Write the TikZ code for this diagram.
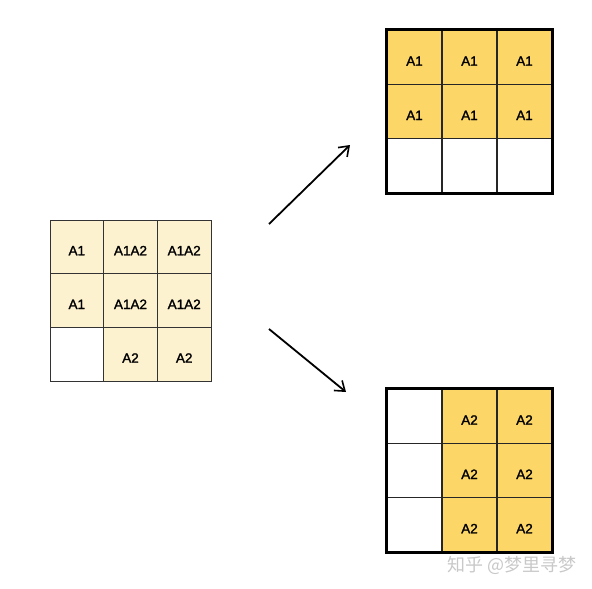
\documentclass[tikz,border=0pt]{standalone}
\usepackage{fontspec}
\setmainfont{Liberation Sans}
\newfontfamily\cellfont{Liberation Sans}[FakeBold=1.6]
\newfontfamily\cjk{Noto Sans CJK SC}
\usetikzlibrary{arrows.meta}
\definecolor{lightcream}{HTML}{FDF2CF}
\definecolor{goldcell}{HTML}{FCD666}
\definecolor{wmgray}{HTML}{C8C8C8}
\tikzset{
  celltext/.style={font=\cellfont\fontsize{13.5}{13.5}\selectfont, text height=17pt, text depth=0pt},
  lcell/.style={draw=black!80, line width=0.9pt, minimum width=53.7pt, minimum height=53.7pt, inner sep=0pt, celltext},
  rcell/.style={draw=black!85, line width=1.4pt, minimum width=55pt, minimum height=54.3pt, inner sep=0pt, celltext},
  cream/.style={fill=lightcream},
  gold/.style={fill=goldcell},
  outer/.style={draw=black, line width=2.8pt},
  arr/.style={-{Straight Barb[length=9pt,width=13pt,line width=1.6pt]}, line width=1.8pt, black}
}
\begin{document}
\begin{tikzpicture}[x=1pt,y=-1pt]
\useasboundingbox (0,0) rectangle (592,589);
% left grid
\node[lcell,cream] (L11) at (76.8,246.8) {A1};
\node[lcell,cream] (L12) at (130.5,246.8) {A1A2};
\node[lcell,cream] (L13) at (184.2,246.8) {A1A2};
\node[lcell,cream] (L21) at (76.8,300.5) {A1};
\node[lcell,cream] (L22) at (130.5,300.5) {A1A2};
\node[lcell,cream] (L23) at (184.2,300.5) {A1A2};
\node[lcell] (L31) at (76.8,354.2) {};
\node[lcell,cream] (L32) at (130.5,354.2) {A2};
\node[lcell,cream] (L33) at (184.2,354.2) {A2};
% top right grid
\node[rcell,gold] (T11) at (414.5,57.2) {A1};
\node[rcell,gold] (T12) at (469.5,57.2) {A1};
\node[rcell,gold] (T13) at (524.5,57.2) {A1};
\node[rcell,gold] (T21) at (414.5,111.5) {A1};
\node[rcell,gold] (T22) at (469.5,111.5) {A1};
\node[rcell,gold] (T23) at (524.5,111.5) {A1};
\node[rcell] (T31) at (414.5,165.8) {};
\node[rcell] (T32) at (469.5,165.8) {};
\node[rcell] (T33) at (524.5,165.8) {};
\draw[outer] (T11.north west) rectangle (T33.south east);
% bottom right grid
\node[rcell] (B11) at (414.5,416.2) {};
\node[rcell,gold] (B12) at (469.5,416.2) {A2};
\node[rcell,gold] (B13) at (524.5,416.2) {A2};
\node[rcell] (B21) at (414.5,470.5) {};
\node[rcell,gold] (B22) at (469.5,470.5) {A2};
\node[rcell,gold] (B23) at (524.5,470.5) {A2};
\node[rcell] (B31) at (414.5,524.8) {};
\node[rcell,gold] (B32) at (469.5,524.8) {A2};
\node[rcell,gold] (B33) at (524.5,524.8) {A2};
\draw[outer] (B11.north west) rectangle (B33.south east);
% arrows
\coordinate (a1s) at (269,224);
\coordinate (a1e) at (350,145);
\coordinate (a2s) at (269,329);
\coordinate (a2e) at (346,392);
\draw[arr] (a1s) -- (a1e);
\draw[arr] (a2s) -- (a2e);
% watermark
\node[text=wmgray, font=\cjk\fontsize{18}{18}\selectfont, inner sep=0pt] (wm) at (512,565) {知乎 @梦里寻梦};
\end{tikzpicture}
\end{document}
